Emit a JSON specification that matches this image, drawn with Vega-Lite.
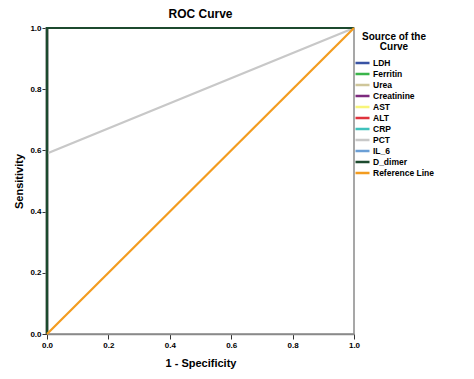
{
  "$schema": "https://vega.github.io/schema/vega-lite/v6.json",
  "autosize": "none",
  "width": 307,
  "height": 306,
  "padding": {"left": 47, "top": 28, "right": 120, "bottom": 45},
  "background": "white",
  "config": {
    "font": "Liberation Sans",
    "view": {"stroke": "#8a8a8a", "strokeWidth": 1.5},
    "axis": {
      "grid": false,
      "labelFontWeight": "bold",
      "labelFontSize": 8,
      "labelColor": "black",
      "labelFlush": false,
      "titleFontWeight": "bold",
      "titleFontSize": 11,
      "titleColor": "black",
      "domainColor": "#8a8a8a",
      "domainWidth": 1.5,
      "tickColor": "#333",
      "tickSize": 5
    }
  },
  "title": {"text": "ROC Curve", "fontSize": 12, "fontWeight": "bold", "color": "black", "offset": 3, "anchor": "middle"},
  "data": {
    "values": [
      {"curve": "LDH", "step": 0, "x": 0, "y": 0},
      {"curve": "LDH", "step": 1, "x": 0, "y": 1},
      {"curve": "LDH", "step": 2, "x": 1, "y": 1},
      {"curve": "Ferritin", "step": 0, "x": 0, "y": 0},
      {"curve": "Ferritin", "step": 1, "x": 0, "y": 1},
      {"curve": "Ferritin", "step": 2, "x": 1, "y": 1},
      {"curve": "Urea", "step": 0, "x": 0, "y": 0},
      {"curve": "Urea", "step": 1, "x": 0, "y": 1},
      {"curve": "Urea", "step": 2, "x": 1, "y": 1},
      {"curve": "Creatinine", "step": 0, "x": 0, "y": 0},
      {"curve": "Creatinine", "step": 1, "x": 0, "y": 1},
      {"curve": "Creatinine", "step": 2, "x": 1, "y": 1},
      {"curve": "AST", "step": 0, "x": 0, "y": 0},
      {"curve": "AST", "step": 1, "x": 0, "y": 1},
      {"curve": "AST", "step": 2, "x": 1, "y": 1},
      {"curve": "ALT", "step": 0, "x": 0, "y": 0},
      {"curve": "ALT", "step": 1, "x": 0, "y": 1},
      {"curve": "ALT", "step": 2, "x": 1, "y": 1},
      {"curve": "CRP", "step": 0, "x": 0, "y": 0},
      {"curve": "CRP", "step": 1, "x": 0, "y": 1},
      {"curve": "CRP", "step": 2, "x": 1, "y": 1},
      {"curve": "IL_6", "step": 0, "x": 0, "y": 0},
      {"curve": "IL_6", "step": 1, "x": 0, "y": 1},
      {"curve": "IL_6", "step": 2, "x": 1, "y": 1},
      {"curve": "PCT", "step": 0, "x": 0, "y": 0},
      {"curve": "PCT", "step": 1, "x": 0, "y": 0.59},
      {"curve": "PCT", "step": 2, "x": 1, "y": 1},
      {"curve": "D_dimer", "step": 0, "x": 0, "y": 0},
      {"curve": "D_dimer", "step": 1, "x": 0, "y": 1},
      {"curve": "D_dimer", "step": 2, "x": 1, "y": 1},
      {"curve": "Reference Line", "step": 0, "x": 0, "y": 0},
      {"curve": "Reference Line", "step": 1, "x": 1, "y": 1}
    ]
  },
  "mark": {"type": "line", "strokeWidth": 2.2, "clip": false},
  "encoding": {
    "x": {
      "field": "x", "type": "quantitative", "title": "1 - Specificity",
      "scale": {"domain": [0, 1], "nice": false},
      "axis": {"values": [0, 0.2, 0.4, 0.6, 0.8, 1], "format": ".1f", "labelPadding": 2, "titlePadding": 8}
    },
    "y": {
      "field": "y", "type": "quantitative", "title": "Sensitivity",
      "scale": {"domain": [0, 1], "nice": false},
      "axis": {"values": [0, 0.2, 0.4, 0.6, 0.8, 1], "format": ".1f", "labelPadding": 1, "titlePadding": 5}
    },
    "order": {"field": "step", "type": "quantitative"},
    "color": {
      "field": "curve", "type": "nominal",
      "scale": {
        "domain": ["LDH", "Ferritin", "Urea", "Creatinine", "AST", "ALT", "CRP", "PCT", "IL_6", "D_dimer", "Reference Line"],
        "range": ["#3953a4", "#3ab54a", "#cfc69a", "#7d2a7e", "#f8f57a", "#e0333d", "#3fc1bc", "#c8c8c8", "#6b9fd6", "#1c4a2e", "#f39c1f"]
      },
      "legend": {
        "title": ["Source of the", "Curve"],
        "orient": "none",
        "legendX": 307,
        "legendY": 4,
        "titleFontSize": 10,
        "titleFontWeight": "bold",
        "titleColor": "black",
        "titleAlign": "center",
        "titleAnchor": "middle",
        "titleLineHeight": 10,
        "titlePadding": 6,
        "labelFontSize": 8.5,
        "labelFontWeight": "bold",
        "labelColor": "black",
        "labelOffset": 2,
        "symbolType": "stroke",
        "symbolSize": 196,
        "symbolStrokeWidth": 2.5,
        "clipHeight": 10.2,
        "rowPadding": 0
      }
    }
  }
}
